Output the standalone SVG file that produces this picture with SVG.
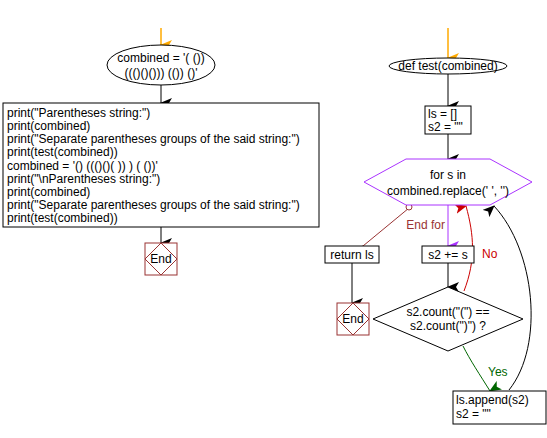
<svg xmlns="http://www.w3.org/2000/svg" width="547" height="438" viewBox="0 0 547 438">
<defs>
<style>
text{font-family:"Liberation Sans",Arial,sans-serif;font-size:12px;fill:#000}
.c{text-anchor:middle}
.box{fill:#fff;stroke:#000;stroke-width:1}
.end{fill:#fff;stroke:#993333;stroke-width:1}
.ln{fill:none;stroke:#000;stroke-width:1}
</style>
<marker id="ab" markerWidth="10" markerHeight="12" refX="5" refY="11" orient="auto-start-reverse" markerUnits="userSpaceOnUse" viewBox="0 0 10 12"><path d="M0,0 L5,3 L10,0 L5,12 Z" fill="#000"/></marker>
<marker id="ao" markerWidth="10" markerHeight="12" refX="5" refY="11" orient="auto-start-reverse" markerUnits="userSpaceOnUse" viewBox="0 0 10 12"><path d="M0,0 L5,3 L10,0 L5,12 Z" fill="#ffaa00"/></marker>
<marker id="ap" markerWidth="10" markerHeight="12" refX="5" refY="11" orient="auto-start-reverse" markerUnits="userSpaceOnUse" viewBox="0 0 10 12"><path d="M0,0 L5,3 L10,0 L5,12 Z" fill="#aa33ff"/></marker>
<marker id="ar" markerWidth="10" markerHeight="12" refX="5" refY="11" orient="auto" markerUnits="userSpaceOnUse" viewBox="0 0 10 12"><path d="M0,0 L5,3 L10,0 L5,12 Z" fill="#cc0000"/></marker>
<marker id="ag" markerWidth="10" markerHeight="12" refX="5" refY="11" orient="auto" markerUnits="userSpaceOnUse" viewBox="0 0 10 12"><path d="M0,0 L5,3 L10,0 L5,12 Z" fill="#006600"/></marker>
<marker id="abk" markerWidth="10" markerHeight="12" refX="5" refY="11" orient="auto" markerUnits="userSpaceOnUse" viewBox="0 0 10 12"><path d="M0,0 L5,3 L10,0 L5,12 Z" fill="#000"/></marker>
<marker id="aopen" markerWidth="12" markerHeight="12" refX="6" refY="11" orient="auto" markerUnits="userSpaceOnUse" viewBox="0 0 12 12"><path d="M1,1 L6,11 L11,1 L6,4 Z" fill="#fff" stroke="#993333" stroke-width="1"/></marker>
</defs>

<g id="connectors">
<line x1="161" y1="28" x2="161" y2="45" stroke="#ffaa00" stroke-width="1.5" marker-end="url(#ao)"/>
<line x1="161" y1="85" x2="161" y2="103" class="ln" marker-end="url(#ab)"/>
<line x1="161" y1="227" x2="161" y2="243" class="ln" marker-end="url(#ab)"/>
<line x1="448" y1="28" x2="448" y2="58" stroke="#ffaa00" stroke-width="1.5" marker-end="url(#ao)"/>
<line x1="448" y1="74" x2="448" y2="106" class="ln" marker-end="url(#ab)"/>
<line x1="448" y1="134" x2="448" y2="159" class="ln" marker-end="url(#ab)"/>
<line x1="448" y1="205" x2="448" y2="246" stroke="#aa33ff" stroke-width="1" marker-end="url(#ap)"/>
<line x1="409" y1="208" x2="363" y2="246" stroke="#993333" stroke-width="1" marker-end="url(#aopen)"/>
<circle cx="409" cy="207" r="3" fill="#fff" stroke="#993333" stroke-width="1"/>
<text x="445" y="229" style="fill:#993333;text-anchor:end">End for</text>
<line x1="352" y1="263" x2="352" y2="303" class="ln" marker-end="url(#ab)"/>
<line x1="448" y1="263" x2="448" y2="287" class="ln" marker-end="url(#ab)"/>
<path d="M464 291 C476 260, 474 235, 466 206" fill="none" stroke="#cc0000" stroke-width="1" marker-end="url(#ar)"/>
<text x="482" y="258" style="fill:#cc0000">No</text>
<path d="M463 346 C470 360, 480 375, 490 391" fill="none" stroke="#006600" stroke-width="1" marker-end="url(#ag)"/>
<text x="488" y="376" style="fill:#006600">Yes</text>
<path d="M509 390 C545 345, 535 250, 494 206" fill="none" stroke="#000" stroke-width="1" marker-end="url(#abk)"/>
</g>

<g id="start_main">
<ellipse cx="161" cy="65" rx="54" ry="20" class="box"/>
<text x="161" y="62" class="c">combined = '( ())</text>
<text x="161" y="77" class="c">((()()())) (()) ()'</text>
</g>

<g id="main_code">
<rect x="3" y="103" width="316" height="124" class="box"/>
<text x="7" y="117">print("Parentheses string:")</text>
<text x="7" y="130.1">print(combined)</text>
<text x="7" y="143.2">print("Separate parentheses groups of the said string:")</text>
<text x="7" y="156.4">print(test(combined))</text>
<text x="7" y="169.5">combined = '() ((()()( )) ) ( ())'</text>
<text x="7" y="182.6">print("\nParentheses string:")</text>
<text x="7" y="195.7">print(combined)</text>
<text x="7" y="208.9">print("Separate parentheses groups of the said string:")</text>
<text x="7" y="222">print(test(combined))</text>
</g>

<g id="end_main">
<rect x="145" y="243" width="32" height="32" class="end"/>
<path d="M161 243 L177 259 L161 275 L145 259 Z" fill="none" stroke="#993333" stroke-width="1"/>
<text x="161" y="263" class="c">End</text>
</g>

<g id="def_test">
<ellipse cx="448" cy="66" rx="59" ry="8" class="box"/>
<text x="448" y="70" class="c">def test(combined)</text>
</g>

<g id="init">
<rect x="425" y="106" width="46" height="28" class="box"/>
<text x="428" y="118">ls = []</text>
<text x="428" y="131">s2 = ""</text>
</g>

<g id="for_loop">
<path d="M364 182 L406 159 L490 159 L532 182 L490 205 L406 205 Z" fill="#fff" stroke="#aa33ff" stroke-width="1"/>
<text x="448" y="179" class="c">for s in</text>
<text x="448" y="195" class="c">combined.replace(' ', '')</text>
</g>

<g id="return_ls">
<rect x="325" y="246" width="54" height="17" class="box"/>
<text x="352" y="259" class="c">return ls</text>
</g>

<g id="s2_add">
<rect x="422" y="246" width="52" height="17" class="box"/>
<text x="448" y="259" class="c">s2 += s</text>
</g>

<g id="end_test">
<rect x="337" y="303" width="32" height="32" class="end"/>
<path d="M353 303 L369 319 L353 335 L337 319 Z" fill="none" stroke="#993333" stroke-width="1"/>
<text x="353" y="323" class="c">End</text>
</g>

<g id="cond">
<path d="M448 287 L523 319 L448 351 L373 319 Z" class="box"/>
<text x="448" y="316" class="c">s2.count("(") ==</text>
<text x="448" y="330" class="c">s2.count(")") ?</text>
</g>

<g id="append">
<rect x="453" y="391" width="93" height="33" class="box"/>
<text x="456" y="404">ls.append(s2)</text>
<text x="456" y="418">s2 = ""</text>
</g>
</svg>
